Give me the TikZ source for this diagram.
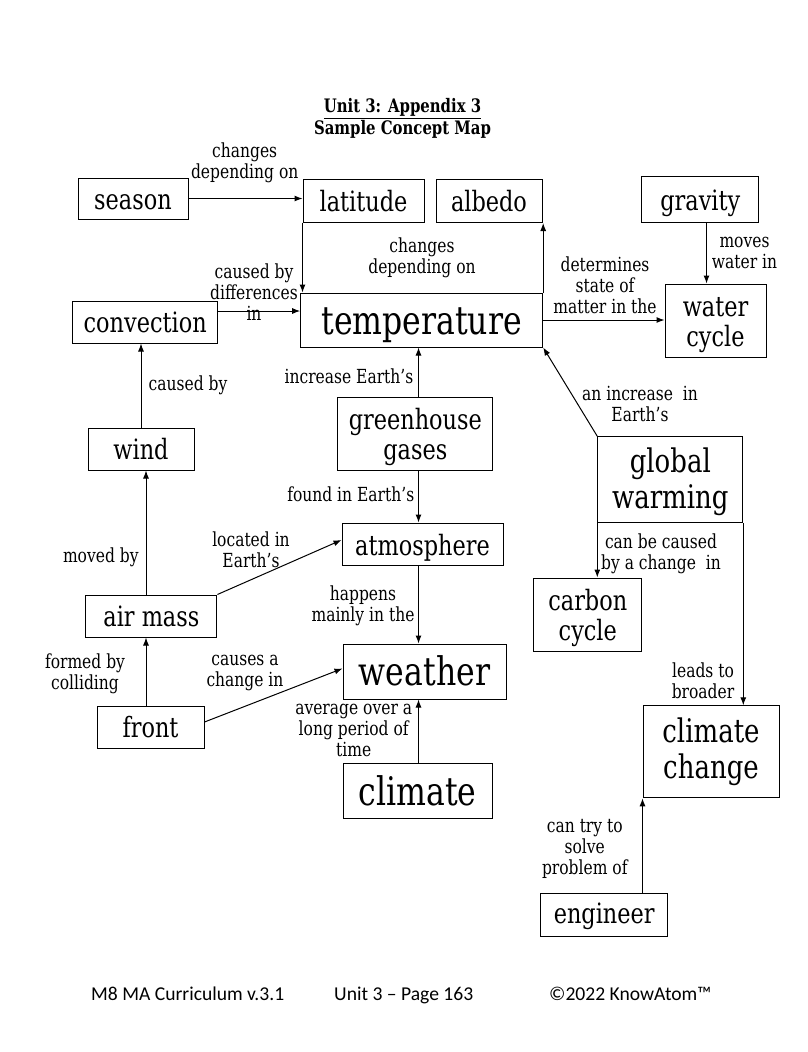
\documentclass[tikz,border=0pt]{standalone}
\usepackage{fontspec}
\setmainfont{DejaVu Serif}[FakeStretch=0.8]
\newfontfamily\footfont{Carlito}
\usetikzlibrary{arrows.meta,calc}
\newcommand\vstr[2]{\rule[-#2]{0pt}{\dimexpr#1+#2\relax}}
\begin{document}
\begin{tikzpicture}[x=1pt,y=-1pt,
  box/.style={draw, line width=1pt, inner sep=0pt, align=center, font=\fontsize{28}{30}\selectfont},
  bigbox/.style={box, font=\fontsize{39.4}{42}\selectfont},
  midbox/.style={box, font=\fontsize{32.5}{36}\selectfont},
  lbl/.style={align=center, inner sep=0pt, font=\fontsize{19.4}{21}\selectfont},
  conn/.style={line width=1pt, -{Latex[length=8pt,width=6pt]}},
  ttl/.style={anchor=base, inner sep=0pt, font=\fontsize{18.6}{20}\selectfont\bfseries},
  foot/.style={anchor=base west, inner sep=0pt, font=\footfont\fontsize{19.6}{22}\selectfont}]
\useasboundingbox (0,0) rectangle (808,1052);
\fill[white] (0,0) rectangle (808,1052);
% title
\node[ttl] (t1) at (402.5,112.5) {\underline{Unit 3: Appendix 3}};
\node[ttl] (t2) at (402.5,134) {Sample Concept Map};
% boxes
\node[box, minimum width=110pt, minimum height=41pt] (season) at (133,198.5) {\vstr{28pt}{7pt}season};
\node[box, minimum width=121pt, minimum height=43pt] (latitude) at (363.5,200.5) {\vstr{28pt}{7pt}latitude};
\node[box, minimum width=106pt, minimum height=43pt] (albedo) at (489,201) {\vstr{28pt}{7pt}albedo};
\node[box, minimum width=117pt, minimum height=46pt] (gravity) at (700.3,199.7) {\vstr{28pt}{7pt}gravity};
\node[box, minimum width=101pt, minimum height=73pt] (water) at (715.5,320.5) {\vstr{29pt}{7pt}water\\cycle\vstr{0pt}{7pt}};
\node[bigbox, minimum width=242pt, minimum height=54pt] (temp) at (421.7,320) {\vstr{38pt}{10pt}temperature};
\node[box, minimum width=145pt, minimum height=42pt] (convection) at (145.2,322) {\vstr{27pt}{7pt}convection};
\node[box, minimum width=106pt, minimum height=42pt] (wind) at (141,449) {\vstr{28pt}{7pt}wind};
\node[box, minimum width=155pt, minimum height=73.5pt] (green) at (415.3,433.8) {\vstr{28pt}{7pt}greenhouse\\gases\vstr{0pt}{7pt}};
\node[box, minimum width=161pt, minimum height=42pt] (atmos) at (422.5,544) {\vstr{29pt}{7pt}atmosphere};
\node[box, minimum width=131pt, minimum height=42pt] (airmass) at (151.4,616) {\vstr{28pt}{7pt}air mass};
\node[midbox, minimum width=145pt, minimum height=86pt] (gw) at (670.3,479.8) {\vstr{28.5pt}{8pt}global\\warming\vstr{0pt}{8pt}};
\node[box, minimum width=108pt, minimum height=73pt] (carbon) at (587.8,614.5) {\vstr{28pt}{7pt}carbon\\cycle\vstr{0pt}{7pt}};
\node[bigbox, minimum width=163pt, minimum height=55pt] (weather) at (424.5,671.5) {\vstr{37pt}{10pt}weather};
\node[box, minimum width=107pt, minimum height=42pt] (front) at (150.5,727) {\vstr{28pt}{7pt}front};
\node[bigbox, minimum width=149pt, minimum height=54.5pt] (climate) at (417.5,791) {\vstr{38pt}{10pt}climate};
\node[midbox, minimum width=136pt, minimum height=92pt] (cc) at (711,751.8) {\vstr{26pt}{8pt}climate\\change\vstr{0pt}{8pt}};
\node[box, minimum width=127pt, minimum height=43pt] (engineer) at (604.2,914.8) {\vstr{25pt}{7pt}engineer};
% helper columns
\coordinate (spine) at (418.5,0);
\coordinate (leftcol) at (146,0);
\coordinate (gravcol) at (706.5,0);
% connectors
\draw[conn] (season.east) -- (season.east -| latitude.west);
\draw[conn] (latitude.south west) -- (latitude.south west |- temp.north);
\draw[conn] (temp.north east) -- (temp.north east |- albedo.south);
\draw[conn] ([yshift=11pt]convection.east) -- ([yshift=11pt]convection.east -| temp.west);
\draw[conn] (temp.east) -- (temp.east -| water.west);
\draw[conn] (gravity.south -| gravcol) -- (water.north -| gravcol);
\draw[conn] (wind.north) -- (wind.north |- convection.south);
\draw[conn] (green.north -| spine) -- (temp.south -| spine);
\draw[conn] (green.south -| spine) -- (atmos.north -| spine);
\draw[conn] (atmos.south -| spine) -- (weather.north -| spine);
\draw[conn] (climate.north -| spine) -- (weather.south -| spine);
\draw[conn] (airmass.north -| leftcol) -- (wind.south -| leftcol);
\draw[conn] (front.north -| leftcol) -- (airmass.south -| leftcol);
\draw[conn] (airmass.north east) -- ([yshift=4pt]atmos.west);
\draw[conn] ([yshift=5pt]front.east) -- ([yshift=3pt]weather.west);
\draw[conn] (gw.north west) -- (temp.south east);
\draw[conn] (gw.south west) -- (gw.south west |- carbon.north);
\draw[conn] (gw.south east) -- (gw.south east |- cc.north);
\draw[conn] (cc.south west |- engineer.north) -- (cc.south west);
% labels
\node[lbl] (l1) at (244.7,163) {changes\\depending on};
\node[lbl] (l2) at (422,258) {changes\\depending on};
\node[lbl] (l3) at (254,292) {caused by\\differences\\in};
\node[lbl] (l4) at (605,285.5) {determines\\state of\\matter in the};
\node[lbl] (l5) at (744.5,253) {moves\\water in};
\node[lbl] (l6) at (188,385) {caused by};
\node[lbl] (l7) at (349,376) {increase Earth’s};
\node[lbl] (l8) at (350.8,494) {found in Earth’s};
\node[lbl] (l9) at (251,549.5) {located in\\Earth’s};
\node[lbl] (l10) at (100.8,557) {moved by};
\node[lbl] (l11) at (363,606) {happens\\mainly in the};
\node[lbl] (l12) at (640,403.5) {an increase~ in\\Earth’s};
\node[lbl] (l13) at (661,553.5) {can be caused\\by a change~ in};
\node[lbl] (l14) at (703,681) {leads to\\broader};
\node[lbl] (l15) at (85,673.5) {formed by\\colliding};
\node[lbl] (l16) at (245,673) {causes a\\change in};
\node[lbl] (l17) at (353.7,730) {average over a\\long period of\\time};
\node[lbl] (l18) at (584.8,848.7) {can try to\\solve\\problem of};
% footer
\node[foot] (f1) at (91,1000) {M8 MA Curriculum v.3.1};
\node[foot] (f2) at (334,1000) {Unit 3 – Page 163};
\node[foot] (f3) at (549,1000) {©2022 KnowAtom™};
\end{tikzpicture}
\end{document}
